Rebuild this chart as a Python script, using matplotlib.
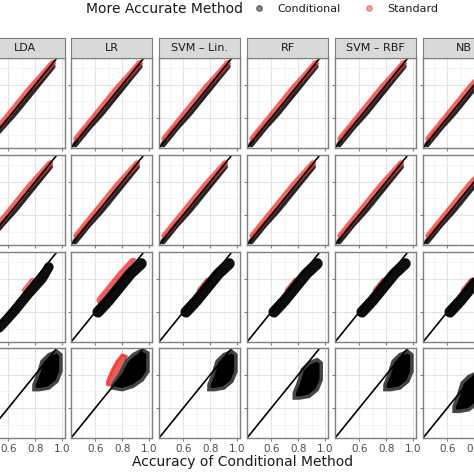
import matplotlib
matplotlib.use("Agg")
import matplotlib.pyplot as plt
from matplotlib.lines import Line2D

methods = ["LDA", "LR", "SVM – Lin.", "RF", "SVM – RBF", "NB"]

# Cloud centre-lines
r1_black_x = [0.45, 0.55, 0.65, 0.75, 0.85, 0.93]
r1_black_y = [0.44, 0.54, 0.63, 0.73, 0.83, 0.91]
r1_red_x = [0.46, 0.56, 0.66, 0.76, 0.86, 0.93]
r1_red_y = [0.475, 0.575, 0.675, 0.775, 0.865, 0.93]

r2_black_x = [0.45, 0.55, 0.65, 0.75, 0.85, 0.91]
r2_black_y = [0.44, 0.54, 0.63, 0.73, 0.83, 0.89]
r2_red_x = [0.46, 0.56, 0.66, 0.76, 0.86, 0.91]
r2_red_y = [0.475, 0.575, 0.675, 0.775, 0.865, 0.91]

r3_black_x = [0.62, 0.70, 0.78, 0.86, 0.94]
r3_black_y = [0.60, 0.67, 0.75, 0.83, 0.89]
r3_lda_black_x = [0.44, 0.55, 0.65, 0.75, 0.85, 0.90]
r3_lda_black_y = [0.43, 0.52, 0.61, 0.71, 0.80, 0.87]
r3_red_x_lr = [0.64, 0.72, 0.80, 0.88]
r3_red_y_lr = [0.67, 0.75, 0.83, 0.90]
r3_red_x_few = [0.72, 0.78]
r3_red_y_few = [0.73, 0.79]

# Row 4 blob outlines (polygon vertices)
r4_blob_x = [0.79, 0.83, 0.90, 0.96, 0.99, 0.99, 0.96, 0.90, 0.85, 0.82, 0.79]
r4_blob_y = [0.71, 0.71, 0.72, 0.76, 0.82, 0.92, 0.94, 0.92, 0.88, 0.80, 0.74]
r4_lr_blob_x = [0.73, 0.80, 0.88, 0.95, 0.99, 0.99, 0.95, 0.88, 0.83, 0.78, 0.73]
r4_lr_blob_y = [0.72, 0.71, 0.73, 0.77, 0.82, 0.93, 0.95, 0.92, 0.88, 0.80, 0.74]
r4_lr_red_x = [0.69, 0.74, 0.78, 0.82, 0.83, 0.80, 0.76, 0.72, 0.69]
r4_lr_red_y = [0.74, 0.73, 0.76, 0.86, 0.91, 0.92, 0.88, 0.82, 0.76]
r4_shift_x = [0.0, 0.0, 0.0, -0.02, 0.0, -0.14]
r4_shift_y = [0.0, 0.0, 0.0, -0.05, 0.0, -0.13]

xlim = (0.42, 1.02)
ylim = (0.42, 0.96)

fig = plt.figure(figsize=(4.74, 4.74), dpi=100)
W = H = 474.0
col_left = [-16, 71, 159, 247, 335, 423]
pw = 81
row_top = [58, 155, 252, 348]
ph = 90

grey = "#7f7f7f"
red = "#e8332f"
for r in range(4):
    for c in range(6):
        ax = fig.add_axes([col_left[c] / W, 1 - (row_top[r] + ph) / H, pw / W, ph / H])
        ax.set_xlim(*xlim)
        ax.set_ylim(*ylim)
        ax.set_xticks([0.6, 0.8, 1.0])
        ax.set_xticks([0.5, 0.7, 0.9], minor=True)
        ax.set_yticks([0.6, 0.8])
        ax.set_yticks([0.5, 0.7, 0.9], minor=True)
        ax.grid(True, which="major", color="#e3e3e3", lw=0.8)
        ax.grid(True, which="minor", color="#f0f0f0", lw=0.5)
        ax.set_axisbelow(True)
        for s in ax.spines.values():
            s.set_color(grey)
            s.set_linewidth(1.0)
        ax.tick_params(which="both", length=2, color=grey, labelsize=7.5, labelcolor="#4d4d4d", pad=2)
        ax.tick_params(which="minor", length=0)
        ax.set_yticklabels([])
        if r < 3:
            ax.set_xticklabels([])
        else:
            ax.set_xticklabels(["0.6", "0.8", "1.0"])
        if r == 0:
            ax.plot(r1_black_x, r1_black_y, color="black", lw=4, alpha=0.85, solid_capstyle="round")
            ax.plot(r1_red_x, r1_red_y, color=red, lw=4.5, alpha=0.75, solid_capstyle="round")
        elif r == 1:
            ax.plot(r2_black_x, r2_black_y, color="black", lw=4, alpha=0.85, solid_capstyle="round")
            ax.plot(r2_red_x, r2_red_y, color=red, lw=4.5, alpha=0.75, solid_capstyle="round")
        elif r == 2:
            if c == 1:
                ax.plot(r3_red_x_lr, r3_red_y_lr, color=red, lw=6, alpha=0.8, solid_capstyle="round")
            else:
                ax.plot(r3_red_x_few, r3_red_y_few, color=red, lw=4, alpha=0.7, solid_capstyle="round")
            if c == 0:
                ax.plot(r3_lda_black_x, r3_lda_black_y, color="black", lw=7, alpha=0.95, solid_capstyle="round")
            else:
                ax.plot(r3_black_x, r3_black_y, color="black", lw=8, alpha=0.95, solid_capstyle="round")
        else:
            if c == 1:
                ax.fill(r4_lr_red_x, r4_lr_red_y, color=red, alpha=0.8, lw=2, ec=red)
                ax.fill(r4_lr_blob_x, r4_lr_blob_y, color="black", lw=2.5, ec="#444444")
            else:
                bx = [v + r4_shift_x[c] for v in r4_blob_x]
                by = [v + r4_shift_y[c] for v in r4_blob_y]
                ax.fill(bx, by, color="black", lw=2.5, ec="#444444")
        ax.plot([0, 1.1], [0, 1.1], color="black", lw=1.2)
        if r == 0:
            sax = fig.add_axes([col_left[c] / W, 1 - 58 / H, pw / W, 20 / H])
            sax.set_facecolor("#d9d9d9")
            sax.set_xticks([]); sax.set_yticks([])
            for s in sax.spines.values():
                s.set_color(grey)
            sax.text(0.5, 0.5, methods[c], ha="center", va="center", fontsize=8, color="#1a1a1a")

fig.text(243 / W, 1 - 462 / H, "Accuracy of Conditional Method", ha="center", va="center", fontsize=10, color="#1a1a1a")

fig.text(165 / W, 1 - 9 / H, "More Accurate Method", ha="center", va="center", fontsize=10, color="#1a1a1a")
handles = [Line2D([], [], marker="o", ls="", color="black", alpha=0.45, markersize=4),
           Line2D([], [], marker="o", ls="", color=red, alpha=0.45, markersize=4)]
fig.legend(handles, ["Conditional", "Standard"], ncol=2, loc="center left",
           bbox_to_anchor=(238 / W, 1 - 9 / H), frameon=False, fontsize=8,
           handletextpad=0.6, columnspacing=1.6, labelcolor="#1a1a1a")

fig.savefig("out.png", dpi=100, facecolor="white")
